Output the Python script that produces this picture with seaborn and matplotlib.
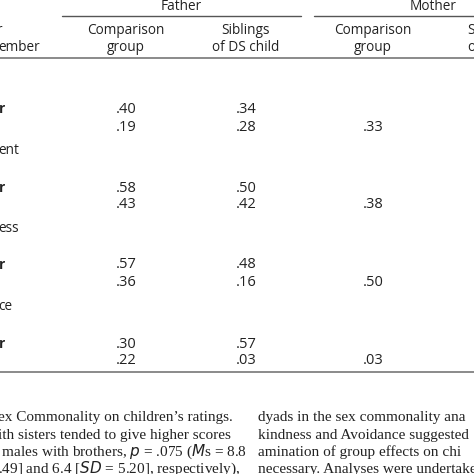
import matplotlib
matplotlib.use("Agg")
import matplotlib.pyplot as plt
import seaborn as sns

sns.set_theme(style="white")
plt.rcParams['font.family'] = ['Open Sans', 'DejaVu Sans']

father_comparison = [".40", ".19", ".58", ".43", ".57", ".36", ".30", ".22"]
father_siblings = [".34", ".28", ".50", ".42", ".48", ".16", ".57", ".03"]
mother_comparison = ["", ".33", "", ".38", "", ".50", "", ".03"]
row_labels = ["r", "", "r", "", "r", "", "r", ""]
section_labels = ["ent", "ess", "ce"]
paragraph_left = ["ex Commonality on children\u2019s ratings.",
                  "ith sisters tended to give higher scores",
                  " males with brothers, $p$ = .075 ($M$s = 8.8",
                  ".49] and 6.4 [$SD$ = 5.20], respectively),"]
paragraph_right = ["dyads in the sex commonality ana",
                   "kindness and Avoidance suggested",
                   "amination of group effects on chi",
                   "necessary. Analyses were undertaken"]

fig = plt.figure(figsize=(4.74, 4.74), dpi=100)
ax = fig.add_axes([0, 0, 1, 1])
ax.set_xlim(0, 474)
ax.set_ylim(474, 0)
ax.axis("off")

c = "#222222"
fs = 9.8
ax.text(181, 6, "Father", ha="center", va="center", fontsize=fs, color=c)
ax.text(433, 6, "Mother", ha="center", va="center", fontsize=fs, color=c)
ax.plot([62, 301], [16, 16], color="#555555", lw=1)
ax.plot([314, 474], [16, 16], color="#555555", lw=1)
for x, t in [(126, "Comparison\ngroup"), (246, "Siblings\nof DS child"), (373, "Comparison\ngroup")]:
    ax.text(x, 39, t, ha="center", va="center", fontsize=fs, color=c, linespacing=1.25)
ax.text(467, 39, "S\nof", ha="left", va="center", fontsize=fs, color=c, linespacing=1.25)
ax.text(-3, 30, "r", ha="left", va="center", fontsize=fs, color=c)
ax.text(-2, 47, "ember", ha="left", va="center", fontsize=fs, color=c)
ax.plot([0, 474], [58, 58], color="#777777", lw=1.2)

row_y = [109, 127, 188, 205, 265, 283, 344, 361]
for i, y in enumerate(row_y):
    ax.text(126, y, father_comparison[i], ha="center", va="center", fontsize=10.5, color=c)
    ax.text(246, y, father_siblings[i], ha="center", va="center", fontsize=10.5, color=c)
    if mother_comparison[i]:
        ax.text(373, y, mother_comparison[i], ha="center", va="center", fontsize=10.5, color=c)
    if row_labels[i]:
        ax.text(-1, y, row_labels[i], ha="left", va="center", fontsize=fs, color=c, fontweight="bold")
for y, t in zip([150, 228, 306], section_labels):
    ax.text(-2, y, t, ha="left", va="center", fontsize=fs, color=c)
ax.plot([0, 474], [372, 372], color="#777777", lw=1.2)

for i, (l, r) in enumerate(zip(paragraph_left, paragraph_right)):
    y = 418 + i * 17
    ax.text(-2, y, l, ha="left", va="center", fontsize=11, color=c, family="Liberation Serif")
    ax.text(258, y, r, ha="left", va="center", fontsize=11, color=c, family="Liberation Serif")

fig.savefig("out.png", dpi=100, facecolor="white")
